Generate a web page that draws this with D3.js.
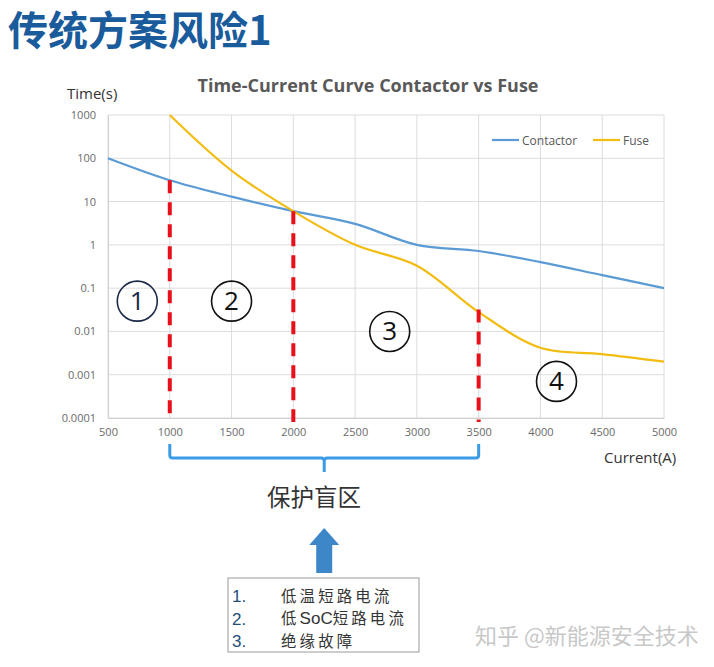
<!DOCTYPE html>
<html><head><meta charset="utf-8">
<script src="https://cdn.jsdelivr.net/npm/d3@7"></script>
<style>body{margin:0;background:#fff}svg{display:block}</style>
</head><body>
<svg id="c" width="714" height="667"></svg>
<script>
const currents = [500,1000,1500,2000,2500,3000,3500,4000,4500,5000];
const contactor = [100,31,13,6,3.05,1,0.72,0.4,0.2,0.1];
const fuseX = [1000,1500,2000,2500,3000,3500,4000,4500,5000];
const fuse = [1000,52,6,1,0.33,0.028,0.0042,0.003,0.002];
const yTicks = [1000,100,10,1,0.1,0.01,0.001,0.0001];
const xTicks = [500,1000,1500,2000,2500,3000,3500,4000,4500,5000];
const dividers = [1000,2000,3500];
const dividerTops = [31,6,0.032];
const zones = [{n:"1",x:737,y:0.05,c:"#1b2a48"},{n:"2",x:1500,y:0.05,c:"#111"},{n:"3",x:2780,y:0.01,c:"#111"},{n:"4",x:4130,y:0.0007,c:"#111"}];
const causes = ["低温短路电流","低SoC短路电流","绝缘故障"];

const svg = d3.select("#c");
const x = d3.scaleLinear().domain([500,5000]).range([108,664]);
const y = d3.scaleLog().domain([0.0001,1000]).range([418,115]);

svg.append("text").attr("x",8).attr("y",45).attr("font-family","Noto Sans CJK SC").attr("font-weight","bold")
  .attr("font-size",40).attr("fill","#1a5b9c").text("传统方案风险1");

// grid
const g = svg.append("g");
g.selectAll(".gy").data(yTicks).join("line").attr("x1",108).attr("x2",664)
  .attr("y1",d=>y(d)).attr("y2",d=>y(d)).attr("stroke","#dcdcdc").attr("stroke-width",1);
g.selectAll(".gx").data(xTicks).join("line").attr("y1",115).attr("y2",418)
  .attr("x1",d=>x(d)).attr("x2",d=>x(d)).attr("stroke","#dcdcdc").attr("stroke-width",1);

const yAxis = d3.axisLeft(y).tickValues(yTicks).tickSize(0).tickPadding(12).tickFormat(d=>String(d));
const ya = svg.append("g").attr("transform","translate(108,0)").call(yAxis);
ya.select(".domain").attr("stroke","#d0d0d0");
ya.selectAll("text").attr("font-family","Open Sans").attr("font-size",11).attr("fill","#6a6a6a");
const xAxis = d3.axisBottom(x).tickValues(xTicks).tickSize(0).tickPadding(10).tickFormat(d=>String(d));
const xa = svg.append("g").attr("transform","translate(0,418)").call(xAxis);
xa.select(".domain").attr("stroke","#d0d0d0");
xa.selectAll("text").attr("font-family","Open Sans").attr("font-size",11).attr("fill","#6a6a6a");

svg.append("text").attr("x",368).attr("y",92).attr("text-anchor","middle").attr("font-family","Open Sans")
  .attr("font-weight","bold").attr("font-size",18).attr("fill","#595959").text("Time-Current Curve Contactor vs Fuse");
svg.append("text").attr("x",67).attr("y",99).attr("font-family","Open Sans").attr("font-size",15).attr("fill","#333").text("Time(s)");
svg.append("text").attr("x",604).attr("y",463).attr("font-family","Open Sans").attr("font-size",15).attr("fill","#333").text("Current(A)");

const line = d3.line().curve(d3.curveCatmullRom.alpha(0.5));
svg.append("path").attr("d",line(currents.map((c,i)=>[x(c),y(contactor[i])])))
  .attr("fill","none").attr("stroke","#5b9bd5").attr("stroke-width",2.2);
svg.append("path").attr("d",line(fuseX.map((c,i)=>[x(c),y(fuse[i])])))
  .attr("fill","none").attr("stroke","#f2bc11").attr("stroke-width",2.2);

// legend
const lg = svg.append("g").attr("font-family","Open Sans").attr("font-size",12).attr("fill","#595959");
lg.append("line").attr("x1",492).attr("x2",519).attr("y1",140).attr("y2",140).attr("stroke","#5b9bd5").attr("stroke-width",2.2);
lg.append("text").attr("x",522).attr("y",144.5).text("Contactor");
lg.append("line").attr("x1",593).attr("x2",620).attr("y1",140).attr("y2",140).attr("stroke","#f2bc11").attr("stroke-width",2.2);
lg.append("text").attr("x",623).attr("y",144.5).text("Fuse");

// red dividers
svg.selectAll(".div").data(dividers).join("line").attr("x1",d=>x(d)).attr("x2",d=>x(d))
  .attr("y1",(d,i)=>y(dividerTops[i])).attr("y2",422).attr("stroke","#e8101a").attr("stroke-width",4)
  .attr("stroke-dasharray","13,9");

// zone circles
const zg = svg.selectAll(".z").data(zones).join("g").attr("transform",d=>`translate(${x(d.x)},${y(d.y)})`);
zg.append("circle").attr("r",20).attr("fill","none").attr("stroke",d=>d.c).attr("stroke-width",1.6);
zg.append("text").attr("text-anchor","middle").attr("dy",9).attr("font-family","Open Sans").attr("font-size",26)
  .attr("fill",d=>d.c).text(d=>d.n);

// bracket
const bx0 = x(dividers[0]), bx1 = x(dividers[2]), bm = (bx0+bx1)/2, by = 458;
svg.append("path").attr("d",`M${bx0},444 L${bx0},${by-3} Q${bx0},${by} ${bx0+3},${by} L${bm-3},${by} Q${bm},${by} ${bm},${by+3} L${bm},472 M${bm},${by+3} Q${bm},${by} ${bm+3},${by} L${bx1-3},${by} Q${bx1},${by} ${bx1},${by-3} L${bx1},444`)
  .attr("fill","none").attr("stroke","#3a9be6").attr("stroke-width",3);

svg.append("text").attr("x",314).attr("y",506).attr("text-anchor","middle").attr("font-family","Noto Sans CJK SC")
  .attr("font-size",23.5).attr("fill","#333").text("保护盲区");

// arrow
svg.append("path").attr("d",`M${bm},528 L${bm+15},545 L${bm+8},545 L${bm+8},573 L${bm-8},573 L${bm-8},545 L${bm-15},545 Z`)
  .attr("fill","#3d87c9");

// box
svg.append("rect").attr("x",228).attr("y",578).attr("width",191).attr("height",74).attr("fill","#fff").attr("stroke","#9a9a9a").attr("stroke-width",1);
const bt = svg.append("text").attr("font-size",17);
causes.forEach((d,i)=>{
  const yy = 601.5+i*22.5;
  bt.append("tspan").attr("x",232).attr("y",yy+0.5).attr("font-family","Liberation Sans").attr("fill","#1f4e7a").text((i+1)+".");
  const runs = d.match(/[A-Za-z]+|[^A-Za-z]+/g);
  runs.forEach((r,j)=>{
    const latin = /^[A-Za-z]+$/.test(r);
    const ts = bt.append("tspan").attr("y",yy).attr("fill","#333")
      .attr("font-family",latin?"Liberation Sans":"Noto Sans CJK SC")
      .attr("font-size",latin?17:15.4).attr("letter-spacing",latin?0:3.2).text(r);
    if(j===0) ts.attr("x",281);
  });
});

svg.append("text").attr("x",475).attr("y",644).attr("font-family","Noto Sans CJK SC").attr("font-size",22)
  .attr("fill","#c8c8c8").text("知乎 @新能源安全技术");
</script>
</body></html>
